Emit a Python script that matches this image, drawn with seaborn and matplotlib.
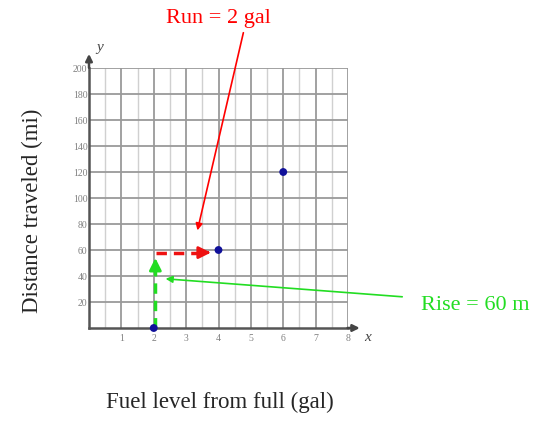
import numpy as np
import matplotlib
matplotlib.use("Agg")
import matplotlib.pyplot as plt
import seaborn as sns

# data
fuel_gal = [2, 4, 6]
distance_mi = [0, 60, 120]

x_ticks = [1, 2, 3, 4, 5, 6, 7, 8]
y_ticks = [20, 40, 60, 80, 100, 120, 140, 160, 180, 200]

run_x = [2.07, 3.85]
run_y = [58, 58]
rise_x = [2.05, 2.05]
rise_y = [0, 56]

sns.set_style("white")
plt.rcParams["font.family"] = ["Liberation Serif", "DejaVu Serif"]

fig = plt.figure(figsize=(5.48, 4.22), dpi=100)
ax = fig.add_axes([89 / 548, 94 / 422, 259 / 548, 260 / 422])

ax.set_xlim(0, 8)
ax.set_ylim(0, 200)

# grid
for gx in np.arange(0.5, 8.01, 0.5):
    major = float(gx).is_integer()
    ax.axvline(gx, color="#9a9a9a" if major else "#d0d0d0",
               lw=1.3 if major else 1.0, zorder=0)
for gy in y_ticks:
    ax.axhline(gy, color="#9a9a9a", lw=1.3, zorder=0)

for side in ["top", "right"]:
    ax.spines[side].set_visible(False)
for side in ["left", "bottom"]:
    ax.spines[side].set_color("#555555")
    ax.spines[side].set_linewidth(1.8)

# axis arrows
ax.annotate("", xy=(8.45, 0), xytext=(7.9, 0), xycoords="data",
            arrowprops=dict(arrowstyle="-|>", color="#444444", lw=1.8,
                            mutation_scale=10), annotation_clip=False)
ax.annotate("", xy=(0, 213), xytext=(0, 198), xycoords="data",
            arrowprops=dict(arrowstyle="-|>", color="#444444", lw=1.8,
                            mutation_scale=10), annotation_clip=False)
ax.text(8.5, -7, "x", fontsize=11, style="italic", color="#444444",
        ha="left", va="center", clip_on=False)
ax.text(0.22, 216, "y", fontsize=11, style="italic", color="#444444",
        ha="left", va="center", clip_on=False)

ax.set_xticks(x_ticks)
ax.set_yticks(y_ticks)
ax.tick_params(axis="both", length=0, labelsize=7, labelcolor="#808080")
ax.tick_params(axis="x", pad=4)
ax.tick_params(axis="y", pad=1)

sns.scatterplot(x=fuel_gal, y=distance_mi, ax=ax, color="#10109a",
                s=32, edgecolor="none", zorder=5, clip_on=False)

# run (red) and rise (green) dashed arrows
ax.plot(run_x[:1] + [run_x[1] - 0.3], run_y, color="#ee1111", lw=2.5,
        ls=(0, (3, 2)), zorder=4)
ax.annotate("", xy=(run_x[1], run_y[1]), xytext=(run_x[1] - 0.35, run_y[1]),
            arrowprops=dict(arrowstyle="-|>", color="#ee1111", lw=2,
                            mutation_scale=18), zorder=4)
ax.plot(rise_x, [rise_y[0], rise_y[1] - 10], color="#22dd22", lw=2.5,
        ls=(0, (3, 2)), zorder=4)
ax.annotate("", xy=(rise_x[1], rise_y[1]), xytext=(rise_x[1], rise_y[1] - 12),
            arrowprops=dict(arrowstyle="-|>", color="#22dd22", lw=2,
                            mutation_scale=18), zorder=4)

# callouts
fig.text(218 / 548, 1 - 18 / 422, "Run = 2 gal", color="red",
         fontsize=16, ha="center", va="center")
ax.annotate("", xy=(3.33, 73), xytext=(244 / 548, 1 - 30 / 422),
            textcoords="figure fraction",
            arrowprops=dict(arrowstyle="-|>", color="red", lw=1.2,
                            mutation_scale=10), annotation_clip=False)
fig.text(475 / 548, 1 - 305 / 422, "Rise = 60 m", color="#22dd22",
         fontsize=16, ha="center", va="center")
ax.annotate("", xy=(2.28, 38), xytext=(405 / 548, 1 - 297 / 422),
            textcoords="figure fraction",
            arrowprops=dict(arrowstyle="-|>", color="#22dd22", lw=1.2,
                            mutation_scale=10), annotation_clip=False)

fig.text(32 / 548, 1 - 211 / 422, "Distance traveled (mi)", rotation=90,
         fontsize=16.5, ha="center", va="center")
fig.text(220 / 548, 1 - 402 / 422, "Fuel level from full (gal)",
         fontsize=16.5, ha="center", va="center")

fig.savefig("out.png", dpi=100)
